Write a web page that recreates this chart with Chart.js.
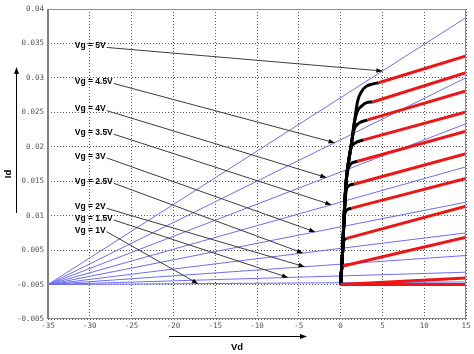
<!DOCTYPE html>
<html><head><meta charset="utf-8">
<script src="https://cdn.jsdelivr.net/npm/chart.js@4/dist/chart.umd.min.js"></script>
<style>html,body{margin:0;padding:0;background:#fff}canvas{display:block}</style>
</head><body>
<canvas id="c" width="474" height="354"></canvas>
<script>
// ---- data ----
const xTickValues = [-35,-30,-25,-20,-15,-10,-5,0,5,10,15];
const yTickLabels = ['-0.005','-0.005','0.005','0.01','0.015','0.02','0.025','0.03','0.035','0.04'];
const vgLabels = ['Vg = 5V','Vg = 4.5V','Vg = 4V','Vg = 3.5V','Vg = 3V','Vg = 2.5V','Vg = 2V','Vg = 1.5V','Vg = 1V'];
// blue lines: start at (-35, 0), end at Vd = 15
const blueStartVd = -35, blueStartId = 0, blueEndVd = 15;
const blueEndId = [0.03875,0.03003,0.02334,0.01709,0.01196,0.0075,0.00422,0.00179,0.00038];
// annotation arrows: tip Vd on corresponding blue line; label anchor in data coords
const arrowTipVd = [5.0,-0.72,-1.71,-1.11,-3.05,-4.51,-4.31,-6.3,-17.07];
const labelVd = -31.8;
const labelId = [0.03464,0.0294,0.02547,0.02204,0.0186,0.01492,0.01128,0.00959,0.00789];
// red saturation segments (Vg = 5 ... 0)
const redStartVd = [4.55,3.83,3.23,2.75,2.03,1.67,1.32,0.72,0.30,0,0];
const redStartId = [0.0293,0.0265,0.0239,0.0210,0.0179,0.0146,0.0111,0.0067,0.0027,0,0];
const redEndVd = 15;
const redEndId = [0.03318,0.03076,0.0281,0.02504,0.02228,0.01898,0.01541,0.01138,0.00688,0.00096,0];
// black linear-region curves
const black5Vd = [0,0.24,0.42,0.66,0.96,1.26,1.67,2.03,2.5,3.1,3.8,4.55];
const black5Id = [0,0.0048,0.0099,0.0149,0.0179,0.0201,0.0237,0.0266,0.0280,0.0288,0.0291,0.0293];
const black45Vd = [0,0.24,0.42,0.66,0.96,1.26,1.67,2.03,2.51,3.11,3.83];
const black45Id = [0,0.0048,0.0099,0.0149,0.0179,0.0201,0.0237,0.0252,0.0259,0.0264,0.0265];
const black4Vd = [0,0.24,0.42,0.66,0.96,1.26,1.44,1.67,2.15,3.23];
const black4Id = [0,0.0048,0.0099,0.0149,0.0179,0.0201,0.0216,0.0227,0.0234,0.0239];
const black35Vd = [0,0.24,0.42,0.66,0.96,1.2,1.67,2.75];
const black35Id = [0,0.0048,0.0099,0.0149,0.0179,0.0197,0.0205,0.0210];
const black3Vd = [0,0.24,0.42,0.66,0.84,1.2,2.03];
const black3Id = [0,0.0048,0.0099,0.0149,0.0165,0.0175,0.0179];
const black25Vd = [0,0.24,0.42,0.54,0.66,0.96,1.67];
const black25Id = [0,0.0048,0.0099,0.0121,0.0136,0.0143,0.0146];
const black2Vd = [0,0.24,0.36,0.48,0.72,1.32];
const black2Id = [0,0.0048,0.0085,0.0101,0.0108,0.0111];
const black15Vd = [0,0.22,0.30,0.42,0.72];
const black15Id = [0,0.0045,0.0059,0.0064,0.0067];
const black1Vd = [0,0.1,0.18,0.30];
const black1Id = [0,0.0018,0.0025,0.0027];
const blackCurves = [[black5Vd,black5Id],[black45Vd,black45Id],[black4Vd,black4Id],[black35Vd,black35Id],
  [black3Vd,black3Id],[black25Vd,black25Id],[black2Vd,black2Id],[black15Vd,black15Id],[black1Vd,black1Id]];

// ---- build datasets ----
const datasets = [];
redStartVd.forEach((v,i)=>datasets.push({
  data:[{x:v,y:redStartId[i]},{x:redEndVd,y:redEndId[i]}],
  borderColor:'#f01414', borderWidth:3, pointRadius:0, showLine:true, order:0
}));
blackCurves.forEach(([vx,vy])=>datasets.push({
  data:vx.map((v,k)=>({x:v,y:vy[k]})),
  borderColor:'#000', borderWidth:3, pointRadius:0, showLine:true,
  cubicInterpolationMode:'monotone', order:1
}));
blueEndId.forEach(e=>datasets.push({
  data:[{x:blueStartVd,y:blueStartId},{x:blueEndVd,y:e}],
  borderColor:'#6e6ef0', borderWidth:1, pointRadius:0, showLine:true, order:2
}));

function arrowHead(ctx,x0,y0,x1,y1,len,hw){
  const a=Math.atan2(y1-y0,x1-x0);
  ctx.beginPath();
  ctx.moveTo(x1,y1);
  ctx.lineTo(x1-len*Math.cos(a)+hw*Math.sin(a), y1-len*Math.sin(a)-hw*Math.cos(a));
  ctx.lineTo(x1-len*Math.cos(a)-hw*Math.sin(a), y1-len*Math.sin(a)+hw*Math.cos(a));
  ctx.closePath(); ctx.fill();
}

const annot = {
  id:'annot',
  afterDatasetsDraw(chart){
    const {ctx, scales:{x,y}} = chart;
    ctx.save();
    ctx.font = 'bold 8.5px "Liberation Sans", Arial, sans-serif';
    ctx.textBaseline = 'middle';
    vgLabels.forEach((t,i)=>{
      const lx = x.getPixelForValue(labelVd), ly = y.getPixelForValue(labelId[i]);
      ctx.fillStyle = '#000';
      ctx.fillText(t, lx, ly);
      const w = ctx.measureText(t).width;
      const tipId = blueStartId + (blueEndId[i]-blueStartId)*(arrowTipVd[i]-blueStartVd)/(blueEndVd-blueStartVd);
      const tx = x.getPixelForValue(arrowTipVd[i]), ty = y.getPixelForValue(tipId);
      const sx = lx+w+1, sy = ly+1.5;
      ctx.strokeStyle = '#3c3c3c'; ctx.lineWidth = 1;
      ctx.beginPath(); ctx.moveTo(sx,sy); ctx.lineTo(tx,ty); ctx.stroke();
      ctx.fillStyle = '#000';
      arrowHead(ctx,sx,sy,tx,ty,6,2.3);
    });
    ctx.restore();
  },
  afterDraw(chart){
    const {ctx, chartArea:a} = chart;
    ctx.save();
    ctx.strokeStyle = '#8c8c8c'; ctx.lineWidth = 1;
    ctx.strokeRect(a.left+0.5, a.top+0.5, a.right-a.left-1, a.bottom-a.top-1);
    ctx.lineWidth = 2; ctx.strokeStyle = '#808080';
    ctx.beginPath(); ctx.moveTo(a.left, a.top); ctx.lineTo(a.left, a.bottom); ctx.stroke();
    // axis titles with arrows
    ctx.fillStyle = '#000'; ctx.strokeStyle = '#000'; ctx.lineWidth = 1;
    ctx.font = 'bold 9.5px "Liberation Sans", Arial, sans-serif';
    ctx.textAlign = 'center'; ctx.textBaseline = 'middle';
    ctx.fillText('Vd', 237, 347);
    ctx.beginPath(); ctx.moveTo(169, 336.5); ctx.lineTo(304, 336.5); ctx.stroke();
    arrowHead(ctx,169,336.5,307,336.5,7,2.5);
    ctx.save(); ctx.translate(8, 174); ctx.rotate(-Math.PI/2);
    ctx.fillText('Id', 0, 0); ctx.restore();
    ctx.beginPath(); ctx.moveTo(16.5, 213); ctx.lineTo(16.5, 72); ctx.stroke();
    arrowHead(ctx,16.5,213,16.5,67,7,2.5);
    ctx.restore();
  }
};

new Chart(document.getElementById('c'), {
  type:'scatter',
  data:{datasets},
  options:{
    responsive:false, animation:false, devicePixelRatio:1,
    layout:{padding:{top:9,right:8,left:0,bottom:0}},
    plugins:{legend:{display:false}, tooltip:{enabled:false}},
    scales:{
      x:{type:'linear', min:-35, max:15,
        afterBuildTicks:s=>{s.ticks = xTickValues.map(v=>({value:v}));},
        afterFit:s=>{s.height = 35;},
        ticks:{color:'#555', padding:3, font:{family:'"DejaVu Sans Mono", monospace', size:7.5},
          callback:v=>String(v)},
        grid:{color:'#5a5a5a', lineWidth:1, drawTicks:false},
        border:{display:false, dash:[1,2]}
      },
      y:{type:'linear', min:-0.005, max:0.04,
        afterBuildTicks:s=>{s.ticks = yTickLabels.map((t,i)=>({value:-0.005+0.005*i}));},
        afterFit:s=>{s.width = 48;},
        ticks:{color:'#555', padding:4, font:{family:'"DejaVu Sans Mono", monospace', size:7.5},
          callback:(v,i)=>yTickLabels[i]},
        grid:{color:'#5a5a5a', lineWidth:1, drawTicks:false},
        border:{display:false, dash:[1,2]}
      }
    }
  },
  plugins:[annot]
});
</script>
</body></html>
